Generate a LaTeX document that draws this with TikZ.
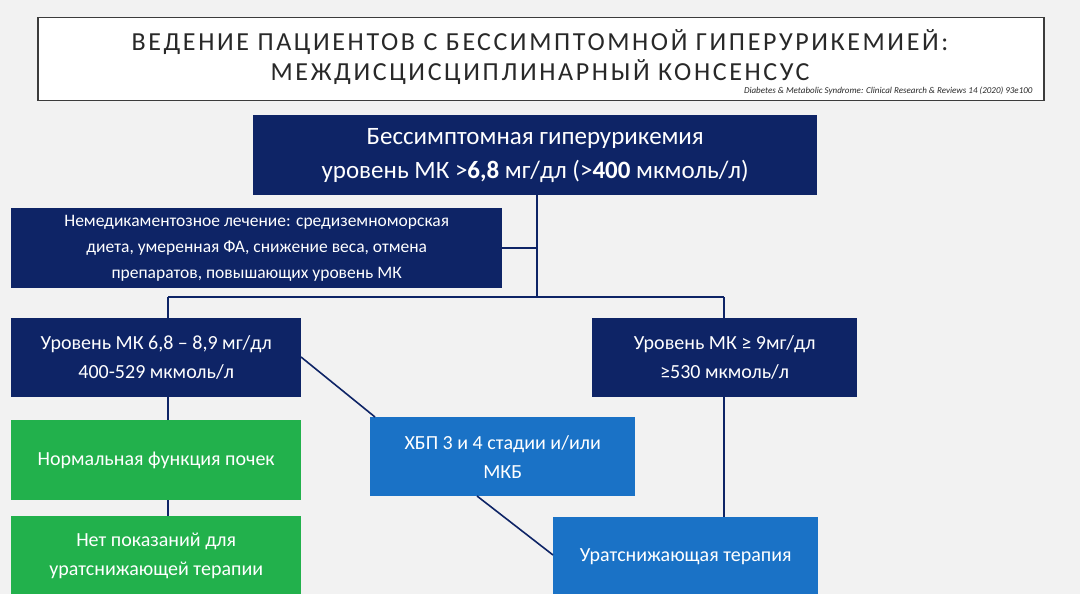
\documentclass[tikz,border=0pt]{standalone}
\usepackage{fontspec}
\setmainfont{Carlito}
\begin{document}
\begin{tikzpicture}[x=1pt,y=-1pt,
  bx/.style={draw=none,minimum width=#1,inner sep=0pt,align=center,text=white,font=\fontsize{17.5}{26}\selectfont},
  navy/.style={fill=navyc},grn/.style={fill=grnc},blu/.style={fill=bluc},
  ln/.style={draw=navyc,line width=1.6pt}]
\definecolor{navyc}{HTML}{0E2466}
\definecolor{grnc}{HTML}{22B14C}
\definecolor{bluc}{HTML}{1A72C6}
\fill[fill={rgb,255:red,242;green,242;blue,242}] (0,0) rectangle (1080,594);
\useasboundingbox (0,0) rectangle (1080,594);
\node[draw={rgb,255:red,60;green,60;blue,60},line width=1.5pt,fill=white,minimum width=1006,minimum height=83,anchor=north west] (title) at (37,17) {};
\node[font=\fontsize{26}{30}\selectfont,text={rgb,255:red,40;green,40;blue,40},align=center] (tt) at (540,57) {\addfontfeatures{LetterSpace=10}ВЕДЕНИЕ ПАЦИЕНТОВ С БЕССИМПТОМНОЙ ГИПЕРУРИКЕМИЕЙ:\\\addfontfeatures{LetterSpace=10}МЕЖДИСЦИСЦИПЛИНАРНЫЙ КОНСЕНСУС};
\node[font=\fontsize{9}{10}\selectfont\itshape,text={rgb,255:red,40;green,40;blue,40},anchor=east] (src) at (1036,91) {Diabetes \& Metabolic Syndrome: Clinical Research \& Reviews 14 (2020) 93e100};
\node[bx=564,navy,minimum height=80,font=\fontsize{25}{34}\selectfont,anchor=north west] (top) at (253,115) {Бессимптомная гиперурикемия\\уровень МК >\textbf{6,8} мг/дл (>\textbf{400} мкмоль/л)};
\node[bx=491,navy,minimum height=80,anchor=north west] (nm) at (11,208) {Немедикаментозное лечение: средиземноморская\\диета, умеренная ФА, снижение веса, отмена\\препаратов, повышающих уровень МК};
\node[bx=290,navy,minimum height=79,font=\fontsize{20}{29}\selectfont,anchor=north west] (l1) at (11,318) {Уровень МК 6,8 – 8,9 мг/дл\\400-529 мкмоль/л};
\node[bx=265,navy,minimum height=79,font=\fontsize{20}{29}\selectfont,anchor=north west] (r1) at (592,318) {Уровень МК ≥ 9мг/дл\\≥530 мкмоль/л};
\node[bx=290,grn,minimum height=80,font=\fontsize{20}{29}\selectfont,anchor=north west] (g1) at (11,420) {Нормальная функция почек};
\node[bx=290,grn,minimum height=80,font=\fontsize{20}{29}\selectfont,anchor=north west] (g2) at (11,516) {Нет показаний для\\уратснижающей терапии};
\node[bx=265,blu,minimum height=79,font=\fontsize{20}{29}\selectfont,anchor=north west] (ckd) at (370,417) {ХБП 3 и 4 стадии и/или\\МКБ};
\node[bx=265,blu,minimum height=80,font=\fontsize{20}{29}\selectfont,anchor=north west] (ut) at (553,517) {Уратснижающая терапия};
\coordinate (j) at (537,297);
\coordinate (jl) at (168,297);
\coordinate (jr) at (724,297);
\draw[ln] (top.south -| j) -- (j);
\draw[ln] (nm.east) -- (nm.east -| j);
\draw[ln] (jl) -- (jr);
\draw[ln] (jl) -- (jl |- l1.north);
\draw[ln] (jr) -- (jr |- r1.north);
\draw[ln] (l1.south -| jl) -- (g1.north -| jl);
\draw[ln] (g1.south -| jl) -- (g2.north -| jl);
\draw[ln] (r1.south -| jr) -- (ut.north -| jr);
\draw[ln] (301,357) -- (375,417);
\draw[ln] (477,496) -- (553,555);
\end{tikzpicture}
\end{document}
